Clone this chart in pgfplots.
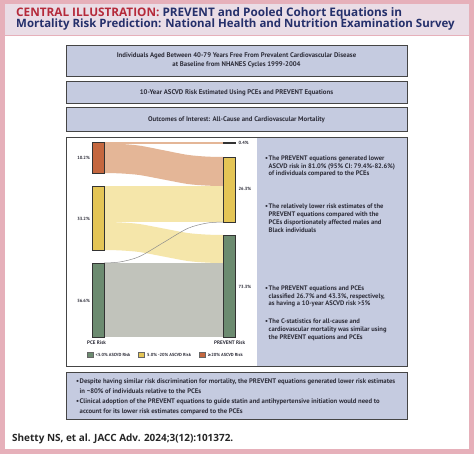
\documentclass[border=0pt]{standalone}
\usepackage{pgfplots}
\pgfplotsset{compat=1.18}
\usepgfplotslibrary{fillbetween}
\usepackage{fontspec}
\setmainfont{Open Sans}
\newfontfamily\pt{PT Sans}
\definecolor{outerpink}{HTML}{E6B0BA}
\definecolor{titlebg}{HTML}{EADDE6}
\definecolor{boxfill}{HTML}{C5CBE0}
\definecolor{boxline}{HTML}{454545}
\definecolor{tred}{HTML}{B52A3A}
\definecolor{tnavy}{HTML}{25306B}
\definecolor{txt}{HTML}{2E2E3A}
\definecolor{nred}{HTML}{C4673F}
\definecolor{nyel}{HTML}{E4C556}
\definecolor{ngrn}{HTML}{6C8B70}
\definecolor{fred}{HTML}{E4B697}
\definecolor{fyel}{HTML}{F5E6AA}
\definecolor{fgrn}{HTML}{C1C3BB}
\newcommand{\bl}[4]{\node[anchor=base west,inner sep=0,font=\pt\bfseries\fontsize{#4}{#4}\selectfont,text=txt] at (#1,#2) {#3};}
\begin{document}
\begin{tikzpicture}
\begin{scope}[x=1bp,y=-1bp]
\fill[outerpink] (0,0) rectangle (474,454);
\fill[titlebg] (5,4) rectangle (469,35);
\fill[white] (5,36) rectangle (469,449);
% boxes
\filldraw[fill=boxfill,draw=boxline,line width=0.8bp] (66.5,45) rectangle (407,76);
\filldraw[fill=boxfill,draw=boxline,line width=0.8bp] (66.5,81) rectangle (407,103);
\filldraw[fill=boxfill,draw=boxline,line width=0.8bp] (66.5,107) rectangle (407,131);
\fill[boxfill] (257,137) rectangle (407,366);
\draw[boxline,line width=0.8bp] (66.5,137) rectangle (407,366);
\filldraw[fill=boxfill,draw=boxline,line width=0.8bp] (66.5,372) rectangle (407,419);
% title
\node[anchor=base west,inner sep=0,font=\bfseries\fontsize{11.8}{11.8}\selectfont] at (16,16.4) {\textcolor{tred}{CENTRAL ILLUSTRATION:} \textcolor{tnavy}{PREVENT and Pooled Cohort Equations in}};
\node[anchor=base west,inner sep=0,font=\bfseries\fontsize{11.5}{11.5}\selectfont,text=tnavy] at (16,27.6) {Mortality Risk Prediction: National Health and Nutrition Examination Survey};
% citation
\node[anchor=base west,inner sep=0,font=\bfseries\fontsize{10}{10}\selectfont,text=black!85] at (12,441.5) {Shetty NS, et al. JACC Adv. 2024;3(12):101372.};
% box texts
\def\bx{\pt\bfseries\fontsize{6.8}{6.8}\selectfont}
\node[anchor=base,inner sep=0,font=\bx,text=txt] at (236.5,57.9) {Individuals Aged Between 40-79 Years Free From Prevalent Cardiovascular Disease};
\node[anchor=base,inner sep=0,font=\bx,text=txt] at (236.5,66.9) {at Baseline from NHANES Cycles 1999-2004};
\node[anchor=base,inner sep=0,font=\bx,text=txt] at (236.5,94.3) {10-Year ASCVD Risk Estimated Using PCEs and PREVENT Equations};
\node[anchor=base,inner sep=0,font=\bx,text=txt] at (236.5,121.3) {Outcomes of Interest: All-Cause and Cardiovascular Mortality};
% right panel bullets
\bl{265}{160.5}{•}{6.6}
\bl{268.5}{160.5}{The PREVENT equations generated lower}{6.6}
\bl{268.5}{168.2}{ASCVD risk in 81.0\% (95\% CI: 79.4\%-82.6\%)}{6.6}
\bl{268.5}{175.9}{of individuals compared to the PCEs}{6.6}
\bl{265}{208.9}{•}{6.6}
\bl{268.5}{208.9}{The relatively lower risk estimates of the}{6.6}
\bl{268.5}{216.5}{PREVENT equations compared with the}{6.6}
\bl{268.5}{224.5}{PCEs disportionately affected males and}{6.6}
\bl{268.5}{232.2}{Black individuals}{6.6}
\bl{265}{290.5}{•}{6.6}
\bl{268.5}{290.5}{The PREVENT equations and PCEs}{6.6}
\bl{268.5}{298.2}{classified 26.7\% and 43.3\%, respectively,}{6.6}
\bl{268.5}{305.9}{as having a 10-year ASCVD risk >5\%}{6.6}
\bl{265}{323.9}{•}{6.6}
\bl{268.5}{323.9}{The C-statistics for all-cause and}{6.6}
\bl{268.5}{331.5}{cardiovascular mortality was similar using}{6.6}
\bl{268.5}{339.2}{the PREVENT equations and PCEs}{6.6}
% bottom box
\bl{76}{383.9}{•}{6.7}
\bl{79.5}{383.9}{Despite having similar risk discrimination for mortality, the PREVENT equations generated lower risk estimates}{6.7}
\bl{79.5}{393.2}{in \textasciitilde 80\% of individuals relative to the PCEs}{6.7}
\bl{76}{403.9}{•}{6.7}
\bl{79.5}{403.9}{Clinical adoption of the PREVENT equations to guide statin and antihypertensive initiation would need to}{6.7}
\bl{79.5}{413.2}{account for its lower risk estimates compared to the PCEs}{6.7}
\end{scope}
\begin{axis}[at={(0,0)},anchor=north west,width=474bp,height=454bp,scale only axis,
  xmin=0,xmax=474,ymin=0,ymax=454,y dir=reverse,hide axis,clip=false]
% flows
\addplot[fill=fgrn,draw=none] coordinates {(104,263) (223,263) (223,337) (104,337)} --cycle;
\addplot[name path=ygt,draw=none,smooth] coordinates {(104,222) (120.2,222.4) (139.3,224.0) (163.5,228.5) (187.7,233.0) (206.8,234.6) (223,235)};
\addplot[name path=ygb,draw=none,smooth] coordinates {(104,250) (120.2,250.4) (139.3,252.0) (163.5,256.5) (187.7,261.0) (206.8,262.6) (223,263)};
\addplot[fill=fyel,draw=none] fill between[of=ygt and ygb, on layer=main];
\addplot[fill=fyel,draw=none] coordinates {(104,186) (223,186) (223,222) (104,222)} --cycle;
\addplot[name path=ryt,draw=none,smooth] coordinates {(104,143.5) (120.2,143.9) (139.3,145.6) (163.5,150.25) (187.7,154.9) (206.8,156.6) (223,157)};
\addplot[name path=ryb,draw=none,smooth] coordinates {(104,173) (120.2,173.4) (139.3,175.0) (163.5,179.5) (187.7,184.0) (206.8,185.6) (223,186)};
\addplot[fill=fred,draw=none] fill between[of=ryt and ryb, on layer=main];
\addplot[fill=fred,draw=none] coordinates {(104,142) (223,142) (223,143.5) (104,143.5)} --cycle;
% thin green->yellow flow
\addplot[draw=black!45,line width=0.5bp,smooth] coordinates {(104,263) (120.2,261.9) (139.3,256.6) (163.5,242.5) (187.7,228.4) (206.8,223.1) (223,222)};
% nodes
\addplot[fill=nred,draw=black!80,line width=0.5bp] coordinates {(92,142) (104,142) (104,173) (92,173)} --cycle;
\addplot[fill=nyel,draw=black!80,line width=0.5bp] coordinates {(92,186) (104,186) (104,250) (92,250)} --cycle;
\addplot[fill=ngrn,draw=black!80,line width=0.5bp] coordinates {(92,263) (104,263) (104,337) (92,337)} --cycle;
\addplot[fill=nred!85!black,draw=black!80,line width=0.4bp] coordinates {(223,142) (235,142) (235,143.5) (223,143.5)} --cycle;
\addplot[fill=nyel,draw=black!80,line width=0.5bp] coordinates {(223,157) (235,157) (235,222) (223,222)} --cycle;
\addplot[fill=ngrn,draw=black!80,line width=0.5bp] coordinates {(223,235) (235,235) (235,337) (223,337)} --cycle;
% legend swatches
\addplot[fill=ngrn,draw=black!60,line width=0.3bp] coordinates {(87,352) (93.5,352) (93.5,357.5) (87,357.5)} --cycle;
\addplot[fill=nyel,draw=black!60,line width=0.3bp] coordinates {(138,352) (144.5,352) (144.5,357.5) (138,357.5)} --cycle;
\addplot[fill=nred,draw=black!60,line width=0.3bp] coordinates {(199,352) (205.5,352) (205.5,357.5) (199,357.5)} --cycle;
\end{axis}
\begin{scope}[x=1bp,y=-1bp]
\def\fs{\pt\bfseries\fontsize{4.5}{4.5}\selectfont}
\node[anchor=east,inner sep=0,font=\fs,text=txt] at (90,157.5) {10.2\%};
\node[anchor=east,inner sep=0,font=\fs,text=txt] at (90,218.5) {33.2\%};
\node[anchor=east,inner sep=0,font=\fs,text=txt] at (90,300.5) {56.6\%};
\node[anchor=west,inner sep=0,font=\fs,text=txt] at (238.5,142.5) {0.4\%};
\node[anchor=west,inner sep=0,font=\fs,text=txt] at (238.5,189) {26.3\%};
\node[anchor=west,inner sep=0,font=\fs,text=txt] at (238.5,287) {73.3\%};
\def\ps{\pt\bfseries\fontsize{5.1}{5.1}\selectfont}
\node[anchor=west,inner sep=0,font=\ps,text=txt] at (87,342.8) {PCE Risk};
\node[anchor=west,inner sep=0,font=\ps,text=txt] at (214,342.8) {PREVENT Risk};
\def\ls{\pt\bfseries\fontsize{4.4}{4.4}\selectfont}
\node[anchor=west,inner sep=0,font=\ls,text=txt] at (95.5,354.8) {<5.0\% ASCVD Risk};
\node[anchor=west,inner sep=0,font=\ls,text=txt] at (147,354.8) {5.0\% -20\% ASCVD Risk};
\node[anchor=west,inner sep=0,font=\ls,text=txt] at (207.5,354.8) {{\fontspec{DejaVu Sans}≥}20\% ASCVD Risk};
\end{scope}
\end{tikzpicture}
\end{document}
